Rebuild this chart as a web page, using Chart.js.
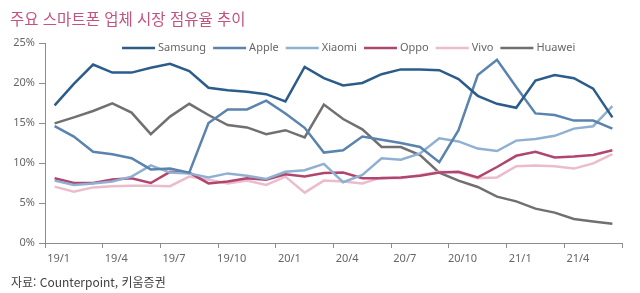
<!DOCTYPE html>
<html lang="ko">
<head>
<meta charset="UTF-8">
<title>주요 스마트폰 업체 시장 점유율 추이</title>
<style>
  body { margin: 0; background: #fff; }
  #wrap { position: relative; width: 640px; height: 293px; }
  #chart { position: absolute; left: 0; top: 0; }
  .title {
    position: absolute; left: 10px; top: 8px;
    font-family: "Noto Sans CJK KR", sans-serif; font-size: 15.5px;
    line-height: 20px; color: #c4527f; white-space: nowrap;
  }
  .source {
    position: absolute; left: 11px; top: 273px;
    font-family: "Noto Sans CJK KR", sans-serif; font-size: 12px;
    line-height: 18px; color: #404040; white-space: nowrap;
  }
</style>
</head>
<body>
<div id="wrap">
  <canvas id="chart" width="640" height="293"></canvas>
  <div class="title">주요 스마트폰 업체 시장 점유율 추이</div>
  <div class="source">자료: Counterpoint, 키움증권</div>
</div>
<script src="https://cdn.jsdelivr.net/npm/chart.js"></script>
<script>
  // monthly market share (%)
  const months = ['19/1','19/2','19/3','19/4','19/5','19/6','19/7','19/8','19/9','19/10','19/11','19/12',
                  '20/1','20/2','20/3','20/4','20/5','20/6','20/7','20/8','20/9','20/10','20/11','20/12',
                  '21/1','21/2','21/3','21/4','21/5','21/6'];
  const samsung = [17.2,19.9,22.3,21.3,21.3,21.9,22.4,21.5,19.4,19.1,18.9,18.6,17.7,22.0,20.6,
                   19.7,20.0,21.1,21.7,21.7,21.6,20.5,18.4,17.4,16.9,20.3,21.0,20.6,19.3,15.7];
  const apple = [14.6,13.3,11.4,11.1,10.6,9.2,9.3,8.8,15.0,16.7,16.7,17.8,16.2,14.4,11.3,
                 11.6,13.3,12.9,12.5,12.0,10.1,14.1,21.0,22.9,19.5,16.2,16.0,15.3,15.3,14.3];
  const xiaomi = [7.8,7.25,7.45,7.7,8.3,9.7,8.8,8.7,8.2,8.7,8.4,8.0,8.9,9.1,9.9,
                  7.6,8.5,10.6,10.4,11.2,13.1,12.7,11.8,11.5,12.8,13.0,13.4,14.3,14.6,17.1];
  const oppo = [8.1,7.5,7.5,7.95,8.1,7.5,8.9,8.8,7.45,7.7,8.1,7.9,8.6,8.3,8.75,
                8.8,8.1,8.1,8.2,8.4,8.8,8.9,8.2,9.5,10.9,11.4,10.7,10.8,11.0,11.6];
  const vivo = [7.05,6.4,6.95,7.1,7.15,7.15,7.1,8.3,7.9,7.45,7.8,7.25,8.3,6.3,7.8,
                7.7,7.45,8.2,8.1,8.5,8.9,8.8,8.1,8.2,9.6,9.7,9.6,9.3,9.95,11.1];
  const huawei = [14.95,15.7,16.5,17.45,16.3,13.6,15.8,17.4,16.0,14.75,14.45,13.6,14.1,13.2,17.3,
                  15.5,14.2,12.0,12.0,11.0,8.8,7.8,7.0,5.8,5.2,4.3,3.8,3.0,2.7,2.4];

  const axisColor = '#8c8c8c';
  const textColor = '#666';
  const font = { family: '"Noto Sans", sans-serif', size: 11 };

  // legend drawn inside the plot, along the top
  const topLegend = {
    id: 'topLegend',
    afterDraw(chart) {
      const ctx = chart.ctx;
      let x = 122;
      const y = 48;
      ctx.save();
      ctx.font = '11px "Noto Sans", sans-serif';
      ctx.textBaseline = 'middle';
      chart.data.datasets.forEach(ds => {
        ctx.strokeStyle = ds.borderColor;
        ctx.lineWidth = 2.5;
        ctx.beginPath();
        ctx.moveTo(x, y);
        ctx.lineTo(x + 33, y);
        ctx.stroke();
        x += 36;
        ctx.fillStyle = textColor;
        ctx.fillText(ds.label, x, y);
        x += ctx.measureText(ds.label).width + 7;
      });
      ctx.restore();
    }
  };

  new Chart(document.getElementById('chart'), {
    type: 'line',
    data: {
      labels: months,
      datasets: [
        { label: 'Samsung', data: samsung, borderColor: '#2b5c8a' },
        { label: 'Apple', data: apple, borderColor: '#5a84ae' },
        { label: 'Xiaomi', data: xiaomi, borderColor: '#90b0d2' },
        { label: 'Oppo', data: oppo, borderColor: '#b0466f' },
        { label: 'Vivo', data: vivo, borderColor: '#ebbccb' },
        { label: 'Huawei', data: huawei, borderColor: '#707070' }
      ]
    },
    options: {
      responsive: false,
      animation: false,
      layout: { padding: { top: 43, right: 18, left: 0, bottom: 0 } },
      elements: {
        line: { borderWidth: 2.5, tension: 0, fill: false },
        point: { radius: 0 }
      },
      plugins: { legend: { display: false }, tooltip: { enabled: false } },
      scales: {
        x: {
          offset: true,
          grid: {
            offset: true,
            drawOnChartArea: false,
            tickLength: 5,
            tickColor: c => (c.index === undefined || c.index % 3 === 0) ? axisColor : 'transparent'
          },
          border: { display: true, color: axisColor },
          ticks: {
            autoSkip: false, maxRotation: 0, color: textColor, font: font, padding: 4,
            labelOffset: 4,
            callback: (v, i) => i % 3 === 0 ? months[i] : ''
          },
          afterFit: s => { s.height = 50; }
        },
        y: {
          min: 0, max: 25,
          grid: { drawOnChartArea: false, tickLength: 6, tickColor: axisColor },
          border: { display: true, color: axisColor },
          ticks: { stepSize: 5, color: textColor, font: font, padding: 4, callback: v => v + '%' },
          afterFit: s => { s.width = 45; }
        }
      }
    },
    plugins: [topLegend]
  });
</script>
</body>
</html>
